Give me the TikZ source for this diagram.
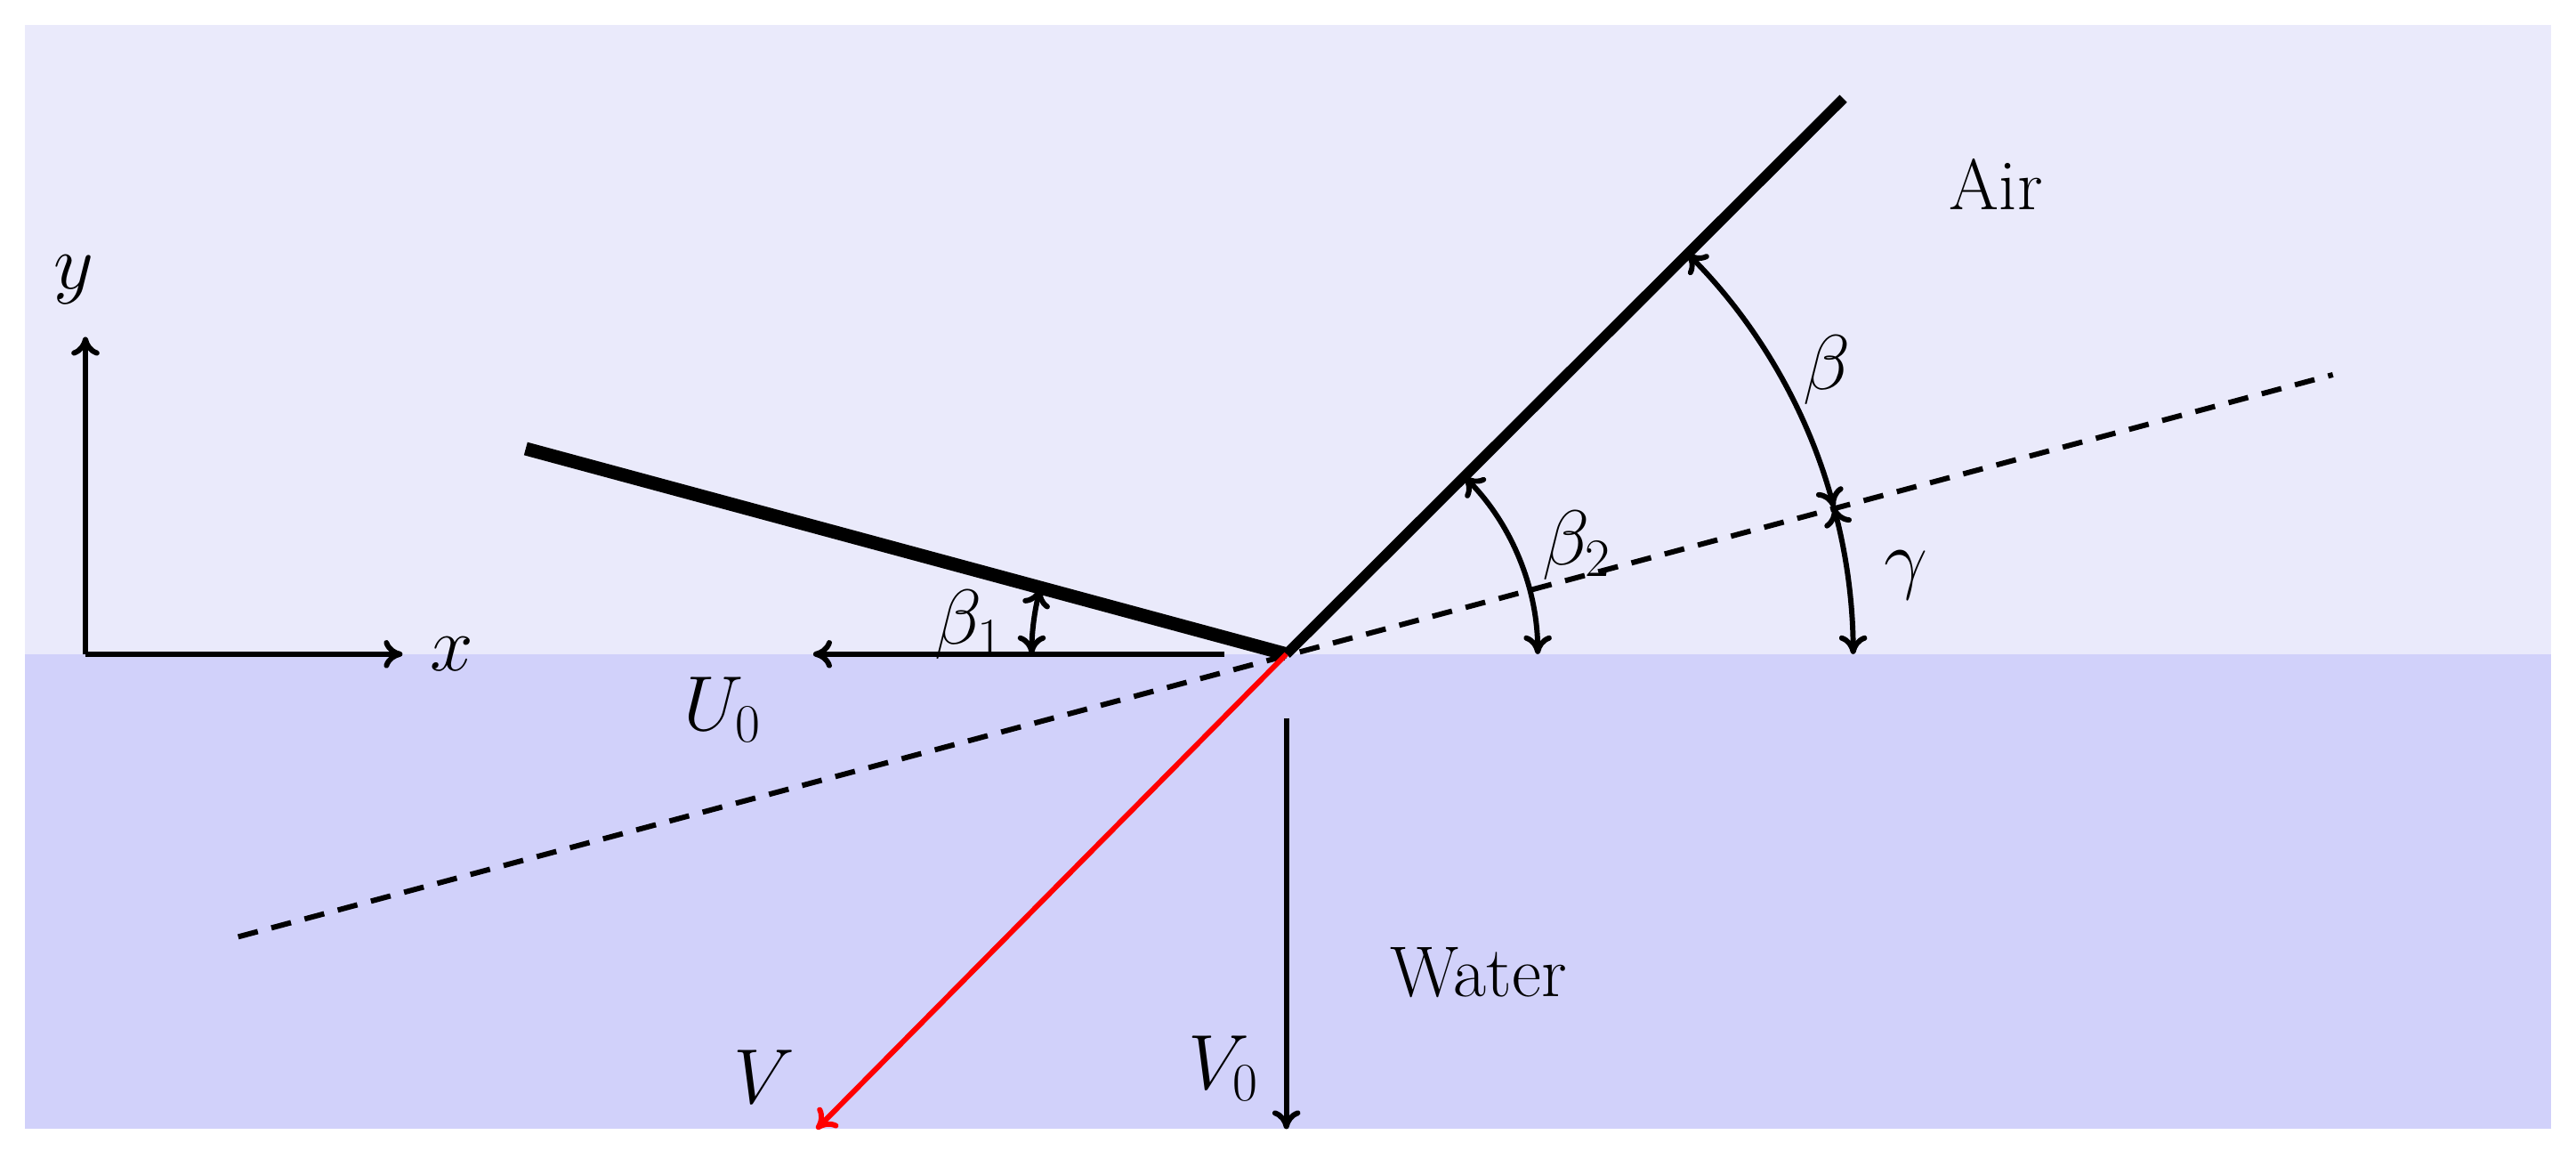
\documentclass[tikz,border=0pt]{standalone}
\usetikzlibrary{arrows.meta,calc}
\definecolor{air}{HTML}{EAEAFB}
\definecolor{water}{HTML}{D1D1FA}
\begin{document}
\begin{tikzpicture}[x=0.0185cm,y=0.0185cm,
  ln/.style={line width=1.7pt},
  arr/.style={ln,-{To[length=6pt,width=9pt]}},
  darr/.style={ln,{To[length=6pt,width=9pt]}-{To[length=6pt,width=9pt]}},
  lbl/.style={font=\fontsize{23}{28}\selectfont}]
\useasboundingbox (0,0) rectangle (1568,700);
\fill[air] (15,302) rectangle (1553,685);
\fill[water] (15,13) rectangle (1553,302);
\coordinate (O) at (783,302);
\coordinate (A) at (52,302);
\coordinate (Ay) at (52,495);
\coordinate (Ax) at (245,302);
\draw[arr] (A) -- (Ay);
\draw[arr] (A) -- (Ax);
\node[lbl] (ly) at (45,530) {$y$};
\node[lbl] (lx) at (275,302) {$x$};
\coordinate (P1) at (320,427);
\coordinate (P2) at (1122,640);
\draw[line width=4.3pt] (P1) -- (O);
\draw[line width=3.3pt] (O) -- (P2);
\coordinate (D1) at (145,130);
\coordinate (D2) at (1420,472);
\draw[ln,dash pattern=on 6.5pt off 4.5pt] (D1) -- (D2);
\coordinate (U1) at (745,302);
\coordinate (U2) at (495,302);
\draw[arr] (U1) -- (U2);
\node[lbl] (lU) at (440,268) {$U_0$};
\coordinate (V1) at (783,263);
\coordinate (V2) at (783,13);
\draw[arr] (V1) -- (V2);
\node[lbl] (lV0) at (745,50) {$V_0$};
\coordinate (R) at (497,13);
\draw[arr,red] (O) -- (R);
\node[lbl] (lV) at (465,45) {$V$};
\node[lbl] (air) at (1215,588) {Air};
\node[lbl] (water) at (900,108) {Water};
\draw[darr] ($(O)+(45:345)$) arc[start angle=45,end angle=15,radius=345];
\draw[darr] ($(O)+(15:345)$) arc[start angle=15,end angle=0,radius=345];
\draw[darr] ($(O)+(45:153)$) arc[start angle=45,end angle=0,radius=153];
\draw[darr] ($(O)+(165:155)$) arc[start angle=165,end angle=180,radius=155];
\node[lbl] (lb) at (1112,475) {$\beta$};
\node[lbl] (lg) at (1160,350) {$\gamma$};
\node[lbl] (lb2) at (960,368) {$\beta_2$};
\node[lbl] (lb1) at (590,320) {$\beta_1$};
\end{tikzpicture}
\end{document}
